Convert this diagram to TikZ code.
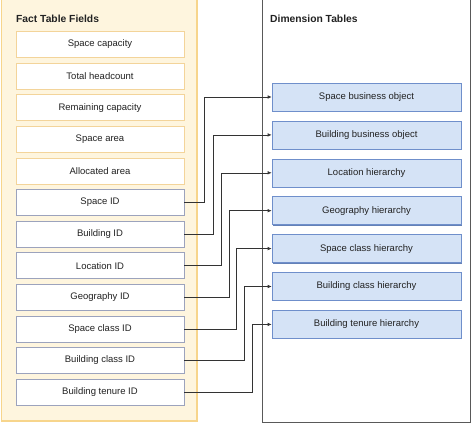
\documentclass[tikz,border=0pt]{standalone}
\usepackage{fontspec}
\setmainfont{Liberation Sans}
\usepackage{tikz}
\usetikzlibrary{calc}
\usetikzlibrary{arrows.meta}
\usetikzlibrary{shadows}

\definecolor{panelfill}{HTML}{FEF5DE}
\definecolor{paneldraw}{HTML}{F7D58C}
\definecolor{measuredraw}{HTML}{F3D49A}
\definecolor{keydraw}{HTML}{9CA3BD}
\definecolor{dimfill}{HTML}{D5E3F6}
\definecolor{dimdraw}{HTML}{6F8FCB}
\definecolor{txt}{HTML}{222222}

\begin{document}
\begin{tikzpicture}[x=1pt,y=-1pt]
            \tikzstyle{measure} = [draw=measuredraw, line width=.8pt, fill=white, minimum width=168pt, minimum height=26pt, inner sep=0pt, font=\fontsize{9.5}{11}\selectfont, text=txt]
            \tikzstyle{key} = [measure, draw=keydraw]
            \tikzstyle{dim} = [draw=dimdraw, line width=.6pt, fill=dimfill, minimum width=189pt, minimum height=28pt, inner sep=0pt, font=\fontsize{9.5}{11}\selectfont, text=txt, drop shadow={shadow xshift=.8pt, shadow yshift=-.9pt, fill=dimdraw!90!black, opacity=1}]
            \tikzstyle{title} = [anchor=west, font=\fontsize{10.3}{12}\selectfont\bfseries, text=txt, inner sep=0pt]
            \tikzstyle{link} = [draw=black!80, line width=.6pt, -{Latex[length=4pt,width=3.5pt]}]

            \useasboundingbox (0,0) rectangle (474,426);
            \begin{scope}
            \clip (0,0) rectangle (474,426);
            \draw [paneldraw, fill=panelfill, line width=1.5pt] (1.5,-10) rectangle (197,421);
            \draw [black!65, fill=white, line width=.8pt, drop shadow={shadow xshift=1pt, shadow yshift=-1pt, fill=black!25, opacity=1}] (262.5,-10) rectangle (470,422);
            \end{scope}

            \node (ftf) [title] at (16,19) {Fact Table Fields};
            \node (dtb) [title] at (270,19) {Dimension Tables};

            % fact table fields
            \node (spcap) [measure] at (100,44.5) {Space capacity};
            \node (tothc) [measure] at ($(spcap)+(0,31.6)$) {Total headcount};
            \node (remcap) [measure] at ($(tothc)+(0,31.6)$) {Remaining capacity};
            \node (sparea) [measure] at ($(remcap)+(0,31.6)$) {Space area};
            \node (alarea) [measure] at ($(sparea)+(0,31.6)$) {Allocated area};
            \node (spid) [key] at ($(alarea)+(0,31.6)$) {Space ID};
            \node (bldid) [key] at ($(spid)+(0,31.6)$) {Building ID};
            \node (locid) [key] at ($(bldid)+(0,31.6)$) {Location ID};
            \node (geoid) [key] at ($(locid)+(0,31.6)$) {Geography ID};
            \node (spclid) [key] at ($(geoid)+(0,31.6)$) {Space class ID};
            \node (bldclid) [key] at ($(spclid)+(0,31.6)$) {Building class ID};
            \node (bldtnid) [key] at ($(bldclid)+(0,31.6)$) {Building tenure ID};

            % dimension tables
            \node (spbo) [dim] at (366.5,97) {Space business object};
            \node (bldbo) [dim] at ($(spbo)+(0,37.9)$) {Building business object};
            \node (lochi) [dim] at ($(bldbo)+(0,37.9)$) {Location hierarchy};
            \node (geohi) [dim] at ($(lochi)+(0,37.9)$) {Geography hierarchy};
            \node (spclhi) [dim] at ($(geohi)+(0,37.9)$) {Space class hierarchy};
            \node (bldclhi) [dim] at ($(spclhi)+(0,37.9)$) {Building class hierarchy};
            \node (bldtnhi) [dim] at ($(bldclhi)+(0,37.9)$) {Building tenure hierarchy};

            \draw [link] (spid.east) -- ++(20,0) |- (spbo.west);
            \draw [link] (bldid.east) -- ++(28.5,0) |- (bldbo.west);
            \draw [link] (locid.east) -- ++(36.5,0) |- (lochi.west);
            \draw [link] (geoid.east) -- ++(44.5,0) |- (geohi.west);
            \draw [link] (spclid.east) -- ++(52,0) |- (spclhi.west);
            \draw [link] (bldclid.east) -- ++(60,0) |- (bldclhi.west);
            \draw [link] (bldtnid.east) -- ++(68,0) |- (bldtnhi.west);
        \end{tikzpicture}
\end{document}
